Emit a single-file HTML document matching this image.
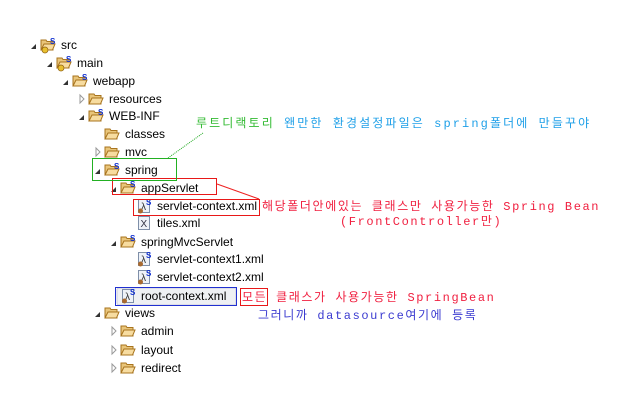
<!DOCTYPE html>
<html><head><meta charset="utf-8"><style>
body{margin:0;width:637px;height:402px;background:#fff;position:relative;overflow:hidden;font-family:"Liberation Sans",sans-serif;}
.t{position:absolute;font-size:12px;color:#000;line-height:18px;white-space:nowrap;}
.k{position:absolute;font-family:"Liberation Mono","Noto Sans CJK KR",monospace;font-size:12px;letter-spacing:1.6px;white-space:nowrap;line-height:16px;}
svg{position:absolute;}
.box{position:absolute;box-sizing:border-box;}
</style></head><body>
<svg width="0" height="0" style="position:absolute">
<defs>
<g id="fold"><path d="M1 3h5l1 1.5h6v8.5H1z" fill="#e9c57a" stroke="#a8741e" stroke-width="1"/><path d="M1 13l3-6h11l-2.5 6z" fill="#f7dca0" stroke="#a8741e" stroke-width="1"/></g>
<g id="xml"><rect x="2.5" y="1.5" width="11" height="13" fill="#eef2f8" stroke="#7f8fa8"/><text x="5" y="12" font-size="10" font-family="Liberation Sans" fill="#333">λ</text><circle cx="4.5" cy="13" r="2.5" fill="#a86a30"/></g>
<g id="xx"><rect x="2.5" y="1.5" width="11" height="13" fill="#eef2f8" stroke="#7f8fa8"/><text x="4.5" y="12" font-size="10" font-family="Liberation Sans" fill="#334">X</text></g>
<g id="s"><text x="10" y="7" font-size="8" font-weight="bold" font-family="Liberation Sans" fill="#1030d0">S</text></g>
</defs></svg>

<svg width="637" height="402" style="left:0;top:0">
<path d="M31 49l5-5v5z" fill="#333"/>
<use href="#fold" x="40" y="37"/><use href="#s" x="40" y="37"/><circle cx="45" cy="50" r="3" fill="#e8c030" stroke="#906010" stroke-width=".7"/>
<path d="M47 67l5-5v5z" fill="#333"/>
<use href="#fold" x="56" y="55"/><use href="#s" x="56" y="55"/><circle cx="61" cy="68" r="3" fill="#e8c030" stroke="#906010" stroke-width=".7"/>
<path d="M63 85l5-5v5z" fill="#333"/>
<use href="#fold" x="72" y="73"/><use href="#s" x="72" y="73"/>
<path d="M80 95l4 4-4 4z" fill="none" stroke="#999"/>
<use href="#fold" x="88" y="91"/>
<path d="M79 120l5-5v5z" fill="#333"/>
<use href="#fold" x="88" y="108"/><use href="#s" x="88" y="108"/>
<use href="#fold" x="104" y="126"/>
<path d="M96 148l4 4-4 4z" fill="none" stroke="#999"/>
<use href="#fold" x="104" y="144"/>
<path d="M95 174l5-5v5z" fill="#333"/>
<use href="#fold" x="104" y="162"/><use href="#s" x="104" y="162"/>
<path d="M111 192l5-5v5z" fill="#333"/>
<use href="#fold" x="120" y="180"/><use href="#s" x="120" y="180"/>
<use href="#xml" x="136" y="198"/><use href="#s" x="136" y="198"/>
<use href="#xx" x="136" y="215"/>
<path d="M111 246l5-5v5z" fill="#333"/>
<use href="#fold" x="120" y="234"/><use href="#s" x="120" y="234"/>
<use href="#xml" x="136" y="251"/><use href="#s" x="136" y="251"/>
<use href="#xml" x="136" y="269"/><use href="#s" x="136" y="269"/>
<rect x="117" y="288" width="119" height="17" rx="2" fill="#eef0f3" stroke="#ccd"/>
<use href="#xml" x="120" y="288"/><use href="#s" x="120" y="288"/>
<path d="M95 317l5-5v5z" fill="#333"/>
<use href="#fold" x="104" y="305"/>
<path d="M112 327l4 4-4 4z" fill="none" stroke="#999"/>
<use href="#fold" x="120" y="323"/>
<path d="M112 346l4 4-4 4z" fill="none" stroke="#999"/>
<use href="#fold" x="120" y="342"/>
<path d="M112 364l4 4-4 4z" fill="none" stroke="#999"/>
<use href="#fold" x="120" y="360"/>
<line x1="168" y1="158" x2="203" y2="133" stroke="#2a2" stroke-dasharray="1,1"/>
<line x1="217" y1="184" x2="259" y2="199" stroke="#e22"/>
<rect x="133.5" y="199.5" width="126" height="16" fill="none" stroke="#e81818"/>
<rect x="115.5" y="287.5" width="121" height="18" fill="none" stroke="#2030d0"/>
<rect x="240.5" y="288.5" width="27" height="17" fill="none" stroke="#e81818"/>
<rect x="112.5" y="178.5" width="104" height="16" fill="none" stroke="#e81818"/>
<rect x="92.5" y="158.5" width="84" height="22" fill="none" stroke="#22b022"/>
</svg>

<div class="t" style="left:61px;top:36px">src</div>
<div class="t" style="left:77px;top:54px">main</div>
<div class="t" style="left:93px;top:72px">webapp</div>
<div class="t" style="left:109px;top:90px">resources</div>
<div class="t" style="left:109px;top:107px">WEB-INF</div>
<div class="t" style="left:125px;top:125px">classes</div>
<div class="t" style="left:125px;top:143px">mvc</div>
<div class="t" style="left:125px;top:161px">spring</div>
<div class="t" style="left:141px;top:179px">appServlet</div>
<div class="t" style="left:157px;top:197px">servlet-context.xml</div>
<div class="t" style="left:157px;top:214px">tiles.xml</div>
<div class="t" style="left:141px;top:233px">springMvcServlet</div>
<div class="t" style="left:157px;top:250px">servlet-context1.xml</div>
<div class="t" style="left:157px;top:268px">servlet-context2.xml</div>
<div class="t" style="left:141px;top:287px">root-context.xml</div>
<div class="t" style="left:125px;top:304px">views</div>
<div class="t" style="left:141px;top:322px">admin</div>
<div class="t" style="left:141px;top:341px">layout</div>
<div class="t" style="left:141px;top:359px">redirect</div>

<div class="k" style="left:196px;top:116px;color:#1fa0e8;letter-spacing:2.1px"><span style="color:#3b3">루트디랙토리</span> 왠만한 환경설정파일은 spring폴더에 만들꾸야</div>
<div class="k" style="left:262px;top:199px;color:#f02040">해당폴더안에있는 클래스만 사용가능한 Spring Bean</div>
<div class="k" style="left:340px;top:214px;color:#f02040">(FrontController만)</div>
<div class="k" style="left:242px;top:290px;color:#f02040">모든 클래스가 사용가능한 SpringBean</div>
<div class="k" style="left:258px;top:308px;color:#3b3bd0">그러니까 datasource여기에 등록</div>
</body></html>
